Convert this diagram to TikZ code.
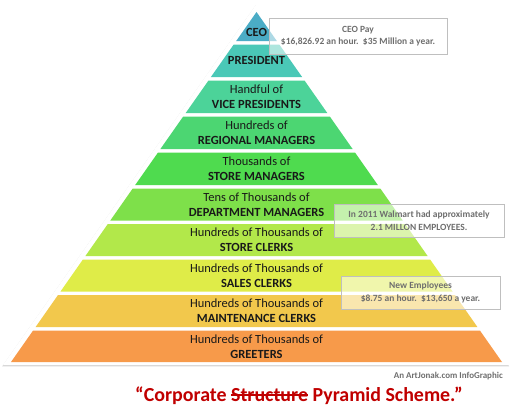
\documentclass[tikz,border=0pt]{standalone}
\usepackage{fontspec}
\setmainfont{Carlito}
\usetikzlibrary{shadows}

\definecolor{cceo}{HTML}{4BACC6}
\definecolor{cpres}{HTML}{4AC8B7}
\definecolor{cvp}{HTML}{4CD399}
\definecolor{creg}{HTML}{4CD672}
\definecolor{csm}{HTML}{4FDB4F}
\definecolor{cdept}{HTML}{7EE04A}
\definecolor{csc}{HTML}{B2E84A}
\definecolor{csales}{HTML}{DFEC48}
\definecolor{cmaint}{HTML}{F2C84C}
\definecolor{cgreet}{HTML}{F79A4A}
\definecolor{notegray}{HTML}{6E6E6E}
\definecolor{noteline}{HTML}{BFBFBF}
\definecolor{titlered}{HTML}{C00000}

\newcommand{\strikeword}[1]{{\setbox0\hbox{#1}\rlap{\rule[0.27em]{\wd0}{1.6pt}}\box0}}

\tikzset{
  level/.style={font=\fontsize{12.5}{15}\selectfont, align=center, text=black!90, inner sep=0pt},
  callout/.style={draw=noteline, line width=0.8pt, fill=white, fill opacity=0.55, text opacity=1,
    text=notegray, font=\fontsize{9.5}{12.5}\selectfont\bfseries, align=center, inner sep=0pt},
  credit/.style={text=notegray, font=\fontsize{9}{11}\selectfont\bfseries, inner sep=0pt},
  titletext/.style={text=titlered, font=\fontsize{20}{24}\selectfont\bfseries, inner sep=0pt}
}

\begin{document}
\begin{tikzpicture}[x=1bp,y=-1bp]
        \useasboundingbox (0,0) rectangle (512,410);
        % white pyramid with shadow
        \path[fill=white, drop shadow={opacity=0.35, shadow xshift=-0.8pt, shadow yshift=-1.4pt}]
            (256.5,4) -- (510,365) -- (3,365) -- cycle;

        % levels, top to bottom
        \fill[cceo] (256.5,12) -- (276.8,41) -- (236.2,41) -- cycle;
        \fill[cpres] (233.7,44.5) -- (279.3,44.5) -- (302.1,77) -- (210.9,77) -- cycle;
        \fill[cvp] (208.5,80.5) -- (304.5,80.5) -- (327.3,113) -- (185.7,113) -- cycle;
        \fill[creg] (183.2,116.5) -- (329.8,116.5) -- (352.6,149) -- (160.4,149) -- cycle;
        \fill[csm] (158.0,152.5) -- (355.0,152.5) -- (377.8,185) -- (135.2,185) -- cycle;
        \fill[cdept] (132.7,188.5) -- (380.3,188.5) -- (402.7,220.5) -- (110.3,220.5) -- cycle;
        \fill[csc] (107.8,224) -- (405.2,224) -- (427.6,256) -- (85.4,256) -- cycle;
        \fill[csales] (82.9,259.5) -- (430.1,259.5) -- (452.5,291.5) -- (60.5,291.5) -- cycle;
        \fill[cmaint] (58.0,295) -- (455.0,295) -- (477.4,327) -- (35.6,327) -- cycle;
        \fill[cgreet] (33.1,330.5) -- (479.9,330.5) -- (502.0,362) -- (11.0,362) -- cycle;

        % level labels
        \node[level] (ceo) at (256.5,32) {\textbf{CEO}};
        \node[level] (pres) at (256.5,60.7) {\textbf{PRESIDENT}};
        \node[level] (vp) at (256.5,96.7) {Handful of\\\textbf{VICE PRESIDENTS}};
        \node[level] (reg) at (256.5,132.7) {Hundreds of\\\textbf{REGIONAL MANAGERS}};
        \node[level] (sm) at (256.5,168.7) {Thousands of\\\textbf{STORE MANAGERS}};
        \node[level] (dept) at (256.5,204.5) {Tens of Thousands of\\\textbf{DEPARTMENT MANAGERS}};
        \node[level] (sc) at (256.5,240) {Hundreds of Thousands of\\\textbf{STORE CLERKS}};
        \node[level] (sales) at (256.5,275.5) {Hundreds of Thousands of\\\textbf{SALES CLERKS}};
        \node[level] (maint) at (256.5,311) {Hundreds of Thousands of\\\textbf{MAINTENANCE CLERKS}};
        \node[level] (greet) at (256.5,346.3) {Hundreds of Thousands of\\\textbf{GREETERS}};

        % notes
        \node[callout, minimum width=178bp, minimum height=36bp] (ceopay) at (358,36)
            {CEO Pay\\\$16,826.92 an hour.~~\$35 Million a year.};
        \node[callout, minimum width=170bp, minimum height=33bp] (walmart) at (419,220.5)
            {In 2011 Walmart had approximately\\2.1 MILLON EMPLOYEES.};
        \node[callout, minimum width=159bp, minimum height=33bp] (newemp) at (420.5,292.5)
            {New Employees\\\$8.75 an hour.~~\$13,650 a year.};

        % credit and title
        \node[credit, anchor=base east] (credit) at (503,378) {An ArtJonak.com InfoGraphic};
        \node[titletext, anchor=base] (title) at (299,401)
            {“Corporate \strikeword{Structure} Pyramid Scheme.”};
\end{tikzpicture}
\end{document}
